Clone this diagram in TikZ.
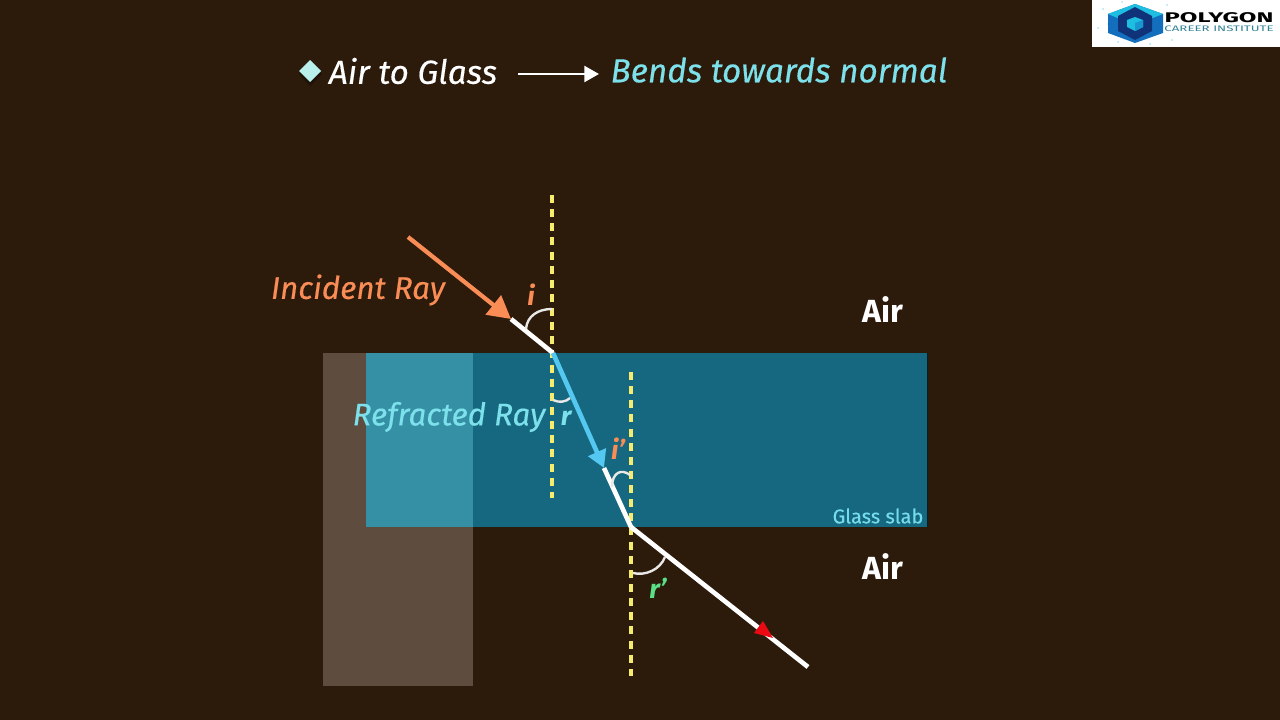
\documentclass[tikz,border=0pt]{standalone}
\usepackage{fontspec}
\setmainfont{Fira Sans}
\newfontfamily\medfont[FakeBold=0.35]{Fira Sans}
\definecolor{bgbrown}{RGB}{44,26,11}
\definecolor{slabteal}{RGB}{21,104,127}
\definecolor{slablight}{RGB}{53,143,165}
\definecolor{screengray}{RGB}{94,76,63}
\definecolor{rayorange}{RGB}{250,140,85}
\definecolor{raycyan}{RGB}{84,200,240}
\definecolor{textcyan}{RGB}{125,225,235}
\definecolor{bulletcyan}{RGB}{185,240,235}
\definecolor{normalyellow}{RGB}{245,235,110}
\definecolor{rayred}{RGB}{235,10,20}
\definecolor{anglegreen}{RGB}{90,225,135}
\definecolor{logoblue}{RGB}{20,110,190}
\definecolor{logocyan}{RGB}{30,190,225}
\definecolor{logonavy}{RGB}{15,50,120}
\definecolor{logoteal}{RGB}{50,130,150}
\usetikzlibrary{arrows.meta,positioning,calc}
\tikzset{
    label text/.style={font=\medfont\itshape\fontsize{23.5}{23.5}\selectfont},
    title text/.style={font=\medfont\itshape\fontsize{25}{25}\selectfont},
    air text/.style={font=\bfseries\fontsize{24}{24}\selectfont, text=white},
    angle text/.style={font=\bfseries\itshape\fontsize{20}{20}\selectfont},
    normal line/.style={normalyellow, line width=3.3pt, dash pattern=on 6pt off 4.6pt},
    ray line/.style={white, line width=3.5pt},
    angle arc/.style={white!90!bgbrown, line width=1.8pt},
}
\begin{document}
\begin{tikzpicture}[x=0.75pt, y=-0.75pt]
    \fill[bgbrown] (0,0) rectangle (1280,720);
    \useasboundingbox (0,0) rectangle (1280,720);
    % screen and slab
    \fill[screengray] (323,353) rectangle (473,686);
    \fill[black!70!slabteal] (366,353) rectangle (928,527);
    \fill[slabteal] (366,353) rectangle (926.5,527);
    \fill[slablight] (366,353) rectangle (473,527);
    % points on the rays
    \coordinate (inStart) at (408,237);
    \coordinate (inTip) at (511,319);
    \coordinate (topPoint) at (553,353);
    \coordinate (refTip) at (604,468);
    \coordinate (botPoint) at (631,527);
    \coordinate (outTip) at (773,638);
    \coordinate (outEnd) at (808,667);
    \coordinate (normalTopA) at (552,195);
    \coordinate (normalTopB) at (552,498);
    \coordinate (normalBotA) at (631,372);
    \coordinate (normalBotB) at (631,676);
    % normals
    \draw[normal line] (normalTopA) -- (normalTopB);
    \draw[normal line] (normalBotA) -- (normalBotB);
    % rays
    \draw[ray line] (inTip) -- (topPoint);
    \draw[ray line] (refTip) -- (botPoint);
    \draw[ray line] (botPoint) -- (outEnd);
    \draw[rayorange, line width=3.2pt, -{Triangle[length=17pt,width=18pt]}] (inStart) -- (inTip);
    \draw[raycyan, line width=3.5pt, -{Triangle[length=13pt,width=14pt]}] (topPoint) -- (refTip);
    \fill[rayred] ($(outTip)+(-19,-5)$) -- (outTip) -- ($(outTip)+(-10,-17)$) -- cycle;
    % angles
    \draw[angle arc] (552,309) .. controls (538,309) and (527,316) .. (526,329);
    \draw[angle arc] (553,400) .. controls (559,403) and (566,402) .. (570,398);
    \draw[angle arc] (630,475) .. controls (621,468) and (612,473) .. (612,487);
    \draw[angle arc] (633,573) .. controls (645,576) and (660,570) .. (665,557);
    \node[angle text, text=rayorange] (angleI) at (531,295) {i};
    \node[angle text, text=textcyan] (angleR) at (566,418) {r};
    \node[angle text, text=rayorange] (angleIp) at (618,449) {i’};
    \node[angle text, text=anglegreen] (angleRp) at (658,588) {r’};
    % labels
    \node[label text, text=rayorange] (incident) at (358,290) {Incident Ray};
    \node[label text, text=textcyan] (refracted) at (449,417) {Refracted Ray};
    \node[air text] (airTop) at (883,310) {Air};
    \node[air text] (airBot) at (883,567) {Air};
    \node[font=\fontsize{15}{15}\selectfont\medfont, text=textcyan!80!raycyan] (slabName) at (878,516) {Glass slab};
    % title line
    \fill[black!30!bgbrown] (299,74) -- (310,63) -- (322,74) -- (310,86) -- cycle;
    \fill[bulletcyan] (299,71) -- (310,60) -- (321,71) -- (310,82) -- cycle;
    \node[title text, text=white] (airGlass) at (413,71) {Air to Glass};
    \node[title text, text=textcyan] (bends) at (779,70) {Bends towards normal};
    \coordinate (titleA) at (518,74);
    \coordinate (titleB) at (599,74);
    \draw[white, line width=1.8pt, -{Triangle[length=11pt,width=12pt]}] (titleA) -- (titleB);
    % logo
    \fill[white] (1092,0) rectangle (1280,47);
    \foreach \x/\y in {1103/9,1167/5,1108/24,1098/28,1122/2,1150/44,1118/42,1172/40}
        \fill[logocyan!40] (\x,\y) circle (1);
    \fill[logoblue] (1135,4) -- (1163,14) -- (1163,33) -- (1135,43) -- (1108,33) -- (1108,14) -- cycle;
    \fill[logocyan] (1135,4) -- (1163,14) -- (1150,19) -- (1135,11) -- (1120,19) -- (1108,14) -- cycle;
    \fill[logonavy] (1135,7) -- (1152,16) -- (1152,31) -- (1135,40) -- (1118,31) -- (1118,16) -- cycle;
    \fill[logocyan] (1135,17) -- (1143,20) -- (1143,27) -- (1135,31) -- (1127,27) -- (1127,20) -- cycle;
    \fill[logoblue!50!logocyan] (1135,23) -- (1143,20) -- (1143,27) -- (1135,31) -- cycle;
    \node[font=\bfseries\fontsize{10.5}{10.5}\selectfont, text=black, xscale=1.82, inner sep=0pt] (logoName) at (1219,18) {POLYGON};
    \node[font=\fontsize{6}{6}\selectfont, text=logoteal, xscale=1.66, inner sep=0pt] (logoSub) at (1219,28.5) {CAREER INSTITUTE};
\end{tikzpicture}
\end{document}
